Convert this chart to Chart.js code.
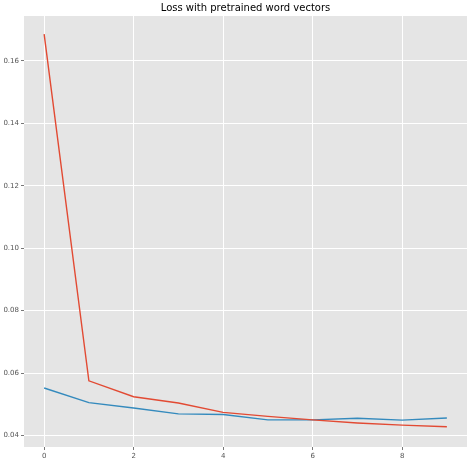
<!DOCTYPE html>
<html>
<head>
<meta charset="utf-8">
<script src="https://cdn.jsdelivr.net/npm/chart.js@4"></script>
<style>
  html, body { margin: 0; padding: 0; background: #fff; }
  #wrap { width: 474px; height: 463px; }
</style>
</head>
<body>
<div id="wrap"><canvas id="chart1"></canvas></div>
<script>
// epochs on the x axis
const epochs = [0, 1, 2, 3, 4, 5, 6, 7, 8, 9];
// red series (the one that starts high)
const redLoss = [0.1686, 0.0575, 0.0524, 0.0504, 0.0474, 0.0461, 0.0450, 0.0440, 0.0433, 0.0428];
// blue series
const blueLoss = [0.0552, 0.0505, 0.0488, 0.0469, 0.0467, 0.0450, 0.0450, 0.0455, 0.0449, 0.0456];
const xTicks = [0, 2, 4, 6, 8];
const yTicks = [0.04, 0.06, 0.08, 0.10, 0.12, 0.14, 0.16];
const titleText = 'Loss with pretrained word vectors';

// grey panel behind the plot + title on top, ggplot style
const ggPanel = {
    id: 'ggPanel',
    beforeDraw(chart) {
        const a = chart.chartArea;
        const ctx = chart.ctx;
        ctx.save();
        ctx.fillStyle = '#E5E5E5';
        ctx.fillRect(a.left, a.top, a.right - a.left, a.bottom - a.top);
        ctx.restore();
    },
    afterDraw(chart) {
        const a = chart.ctx;
        const area = chart.chartArea;
        a.save();
        a.fillStyle = '#000';
        a.font = '10px "DejaVu Sans"';
        a.textAlign = 'center';
        a.textBaseline = 'bottom';
        a.fillText(titleText, (area.left + area.right) / 2, area.top - 3);
        a.restore();
    }
};

const ctx = document.getElementById('chart1').getContext('2d');
new Chart(ctx, {
    type: 'line',
    data: {
        datasets: [
            {
                label: 'red',
                data: epochs.map((e, i) => ({ x: e, y: redLoss[i] })),
                borderColor: '#E24A33',
                borderWidth: 1.4,
                pointRadius: 0,
                tension: 0
            },
            {
                label: 'blue',
                data: epochs.map((e, i) => ({ x: e, y: blueLoss[i] })),
                borderColor: '#348ABD',
                borderWidth: 1.4,
                pointRadius: 0,
                tension: 0
            }
        ]
    },
    options: {
        responsive: true,
        maintainAspectRatio: false,
        animation: false,
        layout: { padding: { top: 16, right: 7, left: 0, bottom: 0 } },
        plugins: {
            legend: { display: false },
            tooltip: { enabled: false }
        },
        scales: {
            x: {
                type: 'linear',
                min: -0.45,
                max: 9.45,
                afterBuildTicks: s => { s.ticks = xTicks.map(v => ({ value: v })); },
                afterFit: s => { s.height = 16; },
                grid: { color: '#fff', lineWidth: 1, tickColor: '#777', tickLength: 3 },
                border: { display: false },
                ticks: {
                    color: '#555',
                    font: { family: 'DejaVu Sans', size: 7 },
                    padding: 2,
                    maxRotation: 0,
                    callback: v => String(v)
                }
            },
            y: {
                type: 'linear',
                min: 0.0363,
                max: 0.1744,
                afterBuildTicks: s => { s.ticks = yTicks.map(v => ({ value: v })); },
                afterFit: s => { s.width = 24; },
                grid: { color: '#fff', lineWidth: 1, tickColor: '#777', tickLength: 3 },
                border: { display: false },
                ticks: {
                    color: '#555',
                    font: { family: 'DejaVu Sans', size: 7 },
                    padding: 2,
                    callback: v => v.toFixed(2)
                }
            }
        }
    },
    plugins: [ggPanel]
});
</script>
</body>
</html>
